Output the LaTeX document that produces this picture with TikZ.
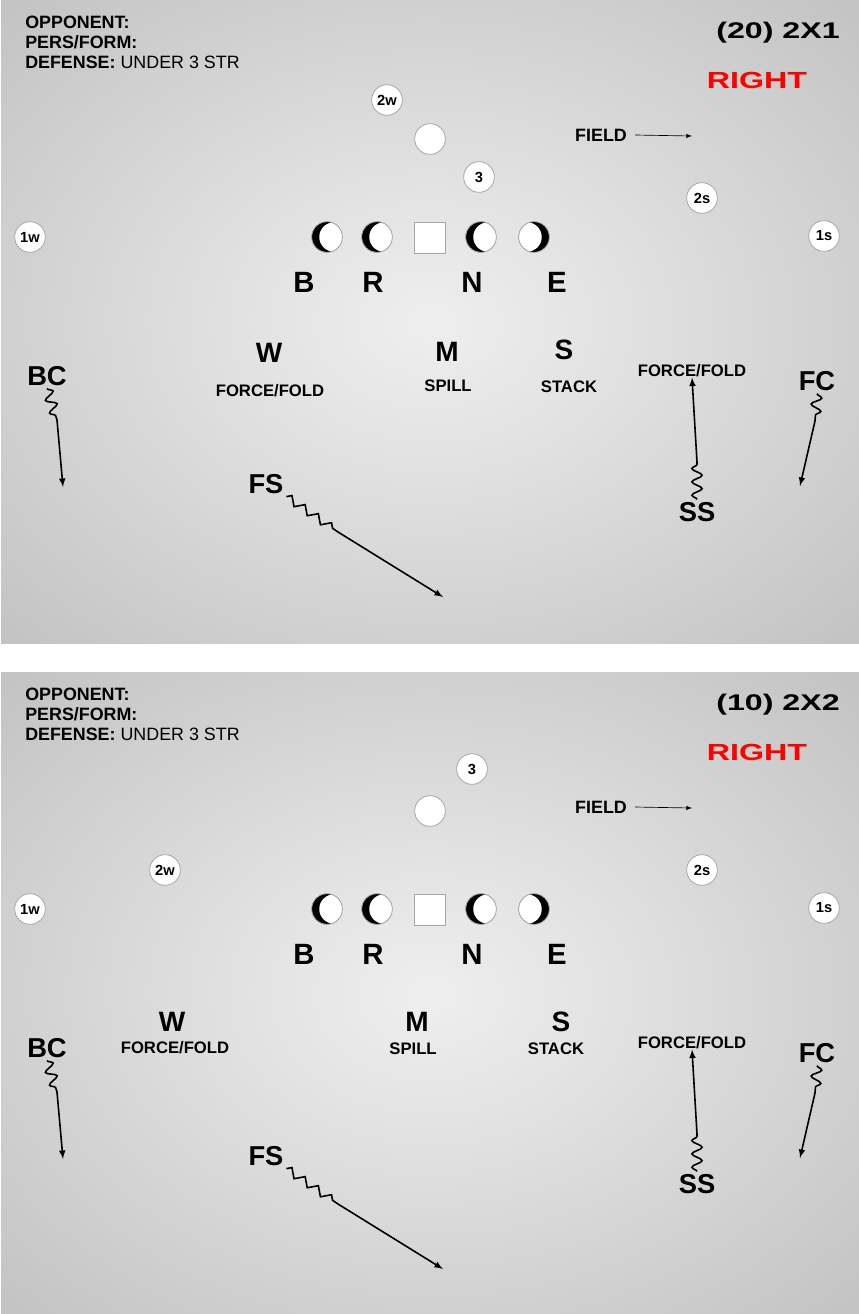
\documentclass[tikz,border=0pt]{standalone}
\usepackage{fontspec}
\setmainfont{Liberation Sans}
\usetikzlibrary{decorations.pathmorphing}

\pgfdeclareradialshading{fieldshade}{\pgfpoint{0bp}{0bp}}{color(0bp)=(gray!13); color(10bp)=(gray!22); color(36bp)=(gray!48); color(50bp)=(gray!68); color(72bp)=(gray!82)}

\tikzset{
    player/.style={circle, draw=gray!70, line width=0.6pt, fill=white, minimum size=23pt, inner sep=0pt, font=\fontsize{11}{11}\selectfont\bfseries},
    darkleft/.style={player, path picture={
        \fill[black] (path picture bounding box.center) circle (12pt);
        \fill[white] ([xshift=5.2pt]path picture bounding box.center) circle (11pt);}},
    darkright/.style={player, path picture={
        \fill[black] (path picture bounding box.center) circle (12pt);
        \fill[white] ([xshift=-5.2pt]path picture bounding box.center) circle (11pt);}},
    snapbox/.style={rectangle, draw=gray!70, line width=0.6pt, fill=white, minimum size=23pt, inner sep=0pt},
    hdr/.style={anchor=west, inner sep=0pt, font=\fontsize{13.4}{14}\selectfont\bfseries},
    linelbl/.style={inner sep=0pt, font=\fontsize{22}{22}\selectfont\bfseries},
    backerlbl/.style={inner sep=0pt, font=\fontsize{21}{21}\selectfont\bfseries},
    dblbl/.style={inner sep=2pt, font=\fontsize{20.5}{20}\selectfont\bfseries},
    rulelbl/.style={inner sep=0pt, font=\fontsize{12.5}{13}\selectfont\bfseries},
    route/.style={-latex, line width=1.2pt},
    wiggle/.style={decoration={snake, amplitude=3.8pt, segment length=10pt}},
    jag/.style={decoration={zigzag, amplitude=3pt, segment length=12pt}}
}

\begin{document}
\begin{tikzpicture}[x=0.75pt, y=-0.75pt]
    \useasboundingbox (0,0) rectangle (859,1314);
    \fill[white] (0,0) rectangle (859,1314);
    \foreach \p/\oy/\title in {a/0/{(20) 2X1}, b/672/{(10) 2X2}} { % both cards
    \begin{scope}[shift={(0,\oy)}]
        \shade[shading=fieldshade] (1,0) rectangle (859,643);
        \node[hdr] (opp\p) at (25,22) {OPPONENT:};
        \node[hdr] (pers\p) at (25,42) {PERS/FORM:};
        \node[hdr] (def\p) at (25,62) {DEFENSE: {\mdseries UNDER 3 STR}};
        \node[inner sep=0pt, font=\fontsize{17}{17}\selectfont\bfseries] (title\p) at (778,33) {\scalebox{1.42}[1]{\title}};
        \node[inner sep=0pt, text=red, font=\fontsize{17.5}{18}\selectfont\bfseries] (side\p) at (757,80) {\scalebox{1.38}[1]{RIGHT}};
        \node[hdr, anchor=center] (field\p) at (601,135) {FIELD};
        \coordinate (fieldend\p) at (692,136);
        \draw[-latex, line width=0.5pt] ([xshift=6pt]field\p.east) -- (fieldend\p);
        % offense
        \node[player] (ball\p) at (430,139) {};
        \node[player] (ow1\p) at (30,237) {1w};
        \node[player] (os1\p) at (824,236) {1s};
        \node[player] (os2\p) at (702,198) {2s};
        % front
        \node[darkleft] (dlb\p) at (327,237) {};
        \node[darkleft] (dlr\p) at (377,237) {};
        \node[snapbox] (snap\p) at (430,238) {};
        \node[darkleft] (dln\p) at (481,237) {};
        \node[darkright] (dle\p) at (534,237) {};
        \foreach \x/\l in {304/B, 373/R, 472/N, 557/E}
            \node[linelbl] (lbl\l\p) at (\x,282) {\l};
        % secondary
        \node[rulelbl] (ssrule\p) at (692,371) {FORCE/FOLD};
        \node[dblbl] (bc\p) at (47,376) {BC};
        \node[dblbl] (fc\p) at (817,381) {FC};
        \node[dblbl] (ss\p) at (697,512) {SS};
        \node[dblbl] (fs\p) at (266,484) {FS};
        \coordinate (bcw\p) at (57,420);
        \coordinate (bce\p) at (63,487);
        \coordinate (fcw\p) at (815,421);
        \coordinate (fce\p) at (800,486);
        \coordinate (ssw\p) at (697,462);
        \coordinate (fsw\p) at (338,532);
        \coordinate (fse\p) at (443,597);
        \draw[route] (bc\p.south) decorate[wiggle] {-- (bcw\p)} -- (bce\p);
        \draw[route] (fc\p.south) decorate[wiggle] {-- (fcw\p)} -- (fce\p);
        \draw[route] (ss\p.north) decorate[wiggle] {-- (ssw\p)} -- (ssrule\p.south);
        \draw[route] (fs\p.south east) decorate[jag] {-- (fsw\p)} -- (fse\p);
    \end{scope}
    }
    % top card
    \node[player] (ow2a) at (387,100) {2w};
    \node[player] (o3a) at (479,177) {3};
    \node[backerlbl] (wa) at (269,353) {W};
    \node[backerlbl] (ma) at (447,352) {M};
    \node[backerlbl] (sa) at (564,350) {S};
    \node[rulelbl] (wrulea) at (270,391) {FORCE/FOLD};
    \node[rulelbl] (mrulea) at (448,386) {SPILL};
    \node[rulelbl] (srulea) at (569,387) {STACK};
    % bottom card
    \begin{scope}[shift={(0,672)}]
        \node[player] (ow2b) at (165,198) {2w};
        \node[player] (o3b) at (472,97) {3};
        \node[backerlbl] (wb) at (172,350) {W};
        \node[backerlbl] (mb) at (417,350) {M};
        \node[backerlbl] (sb) at (561,350) {S};
        \node[rulelbl] (wruleb) at (175,376) {FORCE/FOLD};
        \node[rulelbl] (mruleb) at (413,377) {SPILL};
        \node[rulelbl] (sruleb) at (556,377) {STACK};
    \end{scope}
\end{tikzpicture}
\end{document}
